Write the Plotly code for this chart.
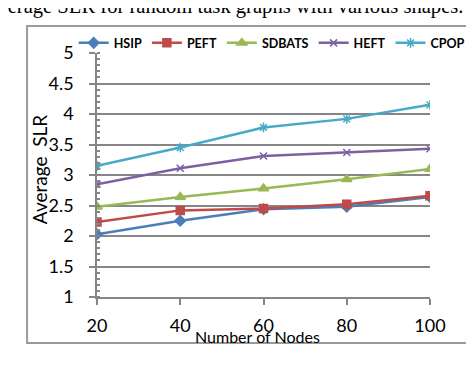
import plotly.graph_objects as go

nodes = [20, 40, 60, 80, 100]
hsip = [2.03, 2.25, 2.44, 2.48, 2.64]
peft = [2.23, 2.42, 2.45, 2.52, 2.66]
sdbats = [2.48, 2.64, 2.78, 2.93, 3.10]
heft = [2.85, 3.11, 3.31, 3.37, 3.43]
cpop = [3.15, 3.45, 3.78, 3.92, 4.15]

series = [
    ("HSIP", hsip, "#4A7EBB", "diamond", 8),
    ("PEFT", peft, "#BE4B48", "square", 8),
    ("SDBATS", sdbats, "#98B954", "triangle-up", 9),
    ("HEFT", heft, "#7D60A0", "x-thin-open", 7),
    ("CPOP", cpop, "#46AAC5", "asterisk-open", 8),
]

fig = go.Figure()
for name, vals, color, sym, size in series:
    fig.add_trace(go.Scatter(
        x=nodes, y=vals, name=name, mode="lines+markers",
        line=dict(color=color, width=2.5),
        marker=dict(symbol=sym, size=size, color=color,
                    line=dict(color=color, width=1.5)),
    ))

FONT = "Lato, Carlito, Liberation Sans, sans-serif"

fig.update_layout(
    width=474, height=371,
    margin=dict(l=89, r=52, t=45, b=82),
    paper_bgcolor="white", plot_bgcolor="white",
    font=dict(family=FONT, color="#000"),
    showlegend=True,
    legend=dict(orientation="h", x=-0.07, xanchor="left", y=1.04, yanchor="middle",
                font=dict(size=12.5, family=FONT, weight="bold"), bgcolor="rgba(0,0,0,0)",
                itemwidth=30, tracegroupgap=0),
    xaxis=dict(range=[20, 100], tickvals=nodes, ticks="outside", ticklen=6,
               tickcolor="#868686", tickwidth=1.5, showgrid=False,
               showline=True, linecolor="#868686", linewidth=1.5,
               tickfont=dict(size=18), ticklabelstandoff=6,
               zeroline=False),
    yaxis=dict(range=[1, 5], dtick=0.5, ticks="outside", ticklen=6,
               tickcolor="#868686", tickwidth=1.5,
               showgrid=True, gridcolor="#868686", gridwidth=1.5,
               showline=True, linecolor="#868686", linewidth=1.5,
               tickfont=dict(size=18), ticklabelstandoff=12,
               minor=dict(dtick=0.1, ticks="inside", ticklen=3,
                          tickcolor="#868686", showgrid=False),
               zeroline=False),
    shapes=[dict(type="rect", xref="paper", yref="paper",
                 x0=-0.21, x1=1.127, y0=-0.189, y1=1.111,
                 line=dict(color="#9a9a9a", width=2), layer="below")],
    annotations=[
        dict(text="Average  SLR", xref="paper", yref="paper", x=-0.174, y=0.52,
             xanchor="center", yanchor="middle",
             textangle=-90, showarrow=False, font=dict(size=19)),
        dict(text="Number of Nodes", xref="paper", yref="paper", x=0.483, y=-0.16,
             xanchor="center", yanchor="middle", showarrow=False,
             font=dict(size=16)),
        dict(text="Average SLR for random task graphs with various shapes.",
             xref="paper", yref="paper", x=1.105, y=1.19, xanchor="right",
             yanchor="middle", showarrow=False,
             font=dict(size=20.6, family="Liberation Serif, Times New Roman, serif")),
    ],
)

fig.write_html("out.html")
